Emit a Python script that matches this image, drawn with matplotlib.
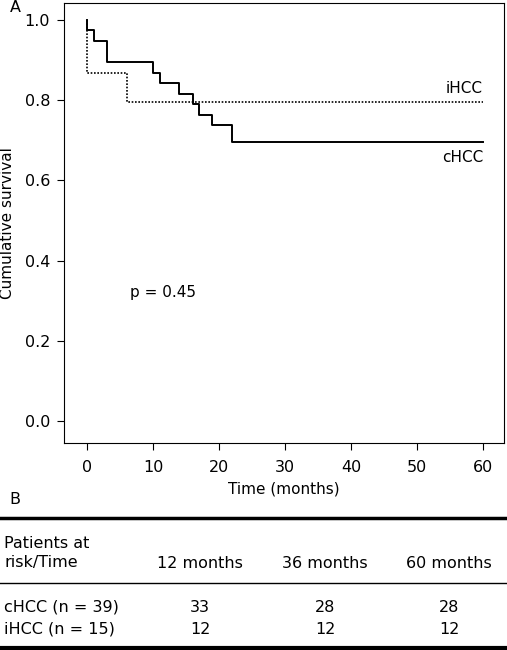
import numpy as np
import matplotlib
matplotlib.use("Agg")
from matplotlib import pyplot as plt
from matplotlib.lines import Line2D

plt.rcParams["font.family"] = ["DejaVu Sans"]
plt.rcParams["font.size"] = 11

# Kaplan-Meier steps
chcc_t = [0, 0, 1, 3, 10, 11, 14, 16, 17, 19, 22, 60]
chcc_s = [1.0, 0.974, 0.947, 0.895, 0.868, 0.842, 0.816, 0.789, 0.763, 0.737, 0.695, 0.695]
ihcc_t = [0, 0, 6, 60]
ihcc_s = [1.0, 0.867, 0.795, 0.795]

# patients at risk table
time_cols = ["12 months", "36 months", "60 months"]
row_names = ["cHCC (n = 39)", "iHCC (n = 15)"]
at_risk = [[33, 28, 28], [12, 12, 12]]

W, H = 507, 650
fig = plt.figure(figsize=(W / 100, H / 100), dpi=100)
ax = fig.add_axes([64 / W, 1 - 443 / H, 440 / W, 440 / H])

ax.step(ihcc_t, ihcc_s, where="post", color="black", lw=1.2, ls=(0, (1, 1)))
ax.step(chcc_t, chcc_s, where="post", color="black", lw=1.4)

ax.set_xlim(-3.5, 63.2)
ax.set_ylim(-0.055, 1.042)
ax.set_xticks(np.arange(0, 61, 10))
ax.set_yticks(np.arange(0, 1.01, 0.2))
ax.set_yticklabels(["0.0", "0.2", "0.4", "0.6", "0.8", "1.0"])
ax.tick_params(direction="out", length=5, width=0.8, pad=7, labelsize=11.5)
ax.tick_params(axis="y", pad=5)
ax.set_xlabel("Time (months)", fontsize=11, labelpad=5)
ax.set_ylabel("Cumulative survival", fontsize=11, labelpad=7)

ax.text(60, 0.81, "iHCC", ha="right", va="bottom", fontsize=11)
ax.text(60, 0.675, "cHCC", ha="right", va="top", fontsize=11)
ax.text(6.5, 0.32, "p = 0.45", ha="left", va="center", fontsize=11)

fig.text(15 / W, 1 - 8 / H, "A", ha="center", va="center", fontsize=11.5)
fig.text(15 / W, 1 - 499 / H, "B", ha="center", va="center", fontsize=11.5)

# table lines
def hline(y, lw):
    fig.add_artist(Line2D([0, 1], [1 - y / H, 1 - y / H], color="black", lw=lw,
                          transform=fig.transFigure))

hline(518, 2.5)
hline(583, 1.0)
hline(648, 3.0)

col_x = [200, 325, 449]
fig.text(4 / W, 1 - 543 / H, "Patients at", ha="left", va="center", fontsize=11.5)
fig.text(4 / W, 1 - 563 / H, "risk/Time", ha="left", va="center", fontsize=11.5)
for cx, name in zip(col_x, time_cols):
    fig.text(cx / W, 1 - 563 / H, name, ha="center", va="center", fontsize=11.5)

row_y = [607, 629]
for ry, name, vals in zip(row_y, row_names, at_risk):
    fig.text(4 / W, 1 - ry / H, name, ha="left", va="center", fontsize=11.5)
    for cx, v in zip(col_x, vals):
        fig.text(cx / W, 1 - ry / H, str(v), ha="center", va="center", fontsize=11.5)

fig.savefig("out.png", dpi=100)
